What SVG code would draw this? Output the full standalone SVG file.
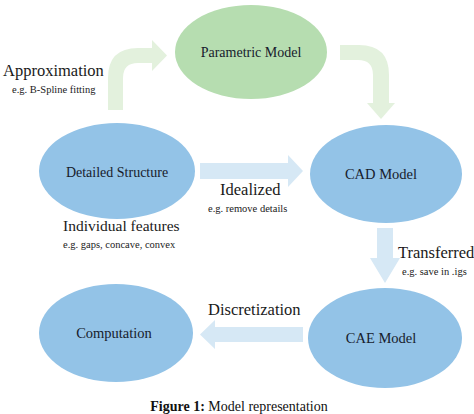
<svg xmlns="http://www.w3.org/2000/svg" width="474" height="414" viewBox="0 0 474 414">
<style>
text{font-family:"Liberation Serif","Times New Roman",serif}
.blue{fill:#93c3e7}
.green{fill:#b6ddb0}
.lbl{fill:#17202c;text-anchor:middle}
.big{fill:#1a1a1a;font-size:16.5px}
.small{fill:#1a1a1a;font-size:10.5px}
.ga{fill:#e3f1dd}
.ba{fill:#d6e8f5}
</style>
<rect width="474" height="414" fill="#ffffff"/>
<g id="connectors">
<path class="ga" d="M108,110 L108,78 Q108,48 138,48 L152,48 L152,40 L167,55.5 L152,71 L152,63 L138,63 Q123,63 123,78 L123,110 Z"/>
<path class="ga" d="M340,45 L359,45 Q389,45 389,75 L389,103 L395,103 L381,119 L367,103 L373,103 L373,75 Q373,60 358,60 L340,60 Z"/>
<path class="ba" d="M200,163 L288,163 L288,155 L303,171 L288,187 L288,179 L200,179 Z"/>
<path class="ba" d="M377,228 L393,228 L393,258 L400,258 L385,283 L370,258 L377,258 Z"/>
<path class="ba" d="M303,327 L215,327 L215,320 L200,334.5 L215,349 L215,342 L303,342 Z"/>
</g>
<g id="labels">
<text class="big" x="3" y="76">Approximation</text>
<text class="small" x="12" y="93">e.g. B-Spline fitting</text>
<text class="big" x="220" y="195">Idealized</text>
<text class="small" x="208" y="212">e.g. remove details</text>
<text class="big" x="63" y="231" style="font-size:15.5px">Individual features</text>
<text class="small" x="63" y="248">e.g. gaps, concave, convex</text>
<text class="big" x="398" y="258">Transferred</text>
<text class="small" x="402" y="275">e.g. save in .igs</text>
<text class="big" x="208" y="315">Discretization</text>
<text x="239" y="411" font-size="14" fill="#111" text-anchor="middle"><tspan font-weight="bold">Figure 1:</tspan> Model representation</text>
</g>
<g id="node-parametric">
<ellipse class="green" cx="251" cy="52" rx="76" ry="47"/>
<text class="lbl" x="251" y="57" font-size="14">Parametric Model</text>
</g>
<g id="node-detailed">
<ellipse class="blue" cx="117" cy="171" rx="78" ry="48"/>
<text class="lbl" x="117" y="177" font-size="14">Detailed Structure</text>
</g>
<g id="node-cad">
<ellipse class="blue" cx="386" cy="174" rx="76" ry="49"/>
<text class="lbl" x="381" y="179" font-size="14.5">CAD Model</text>
</g>
<g id="node-cae">
<ellipse class="blue" cx="385" cy="338" rx="77" ry="50"/>
<text class="lbl" x="381" y="343" font-size="14.5">CAE Model</text>
</g>
<g id="node-computation">
<ellipse class="blue" cx="116" cy="333" rx="77" ry="49"/>
<text class="lbl" x="114" y="338" font-size="14.5">Computation</text>
</g>
</svg>
